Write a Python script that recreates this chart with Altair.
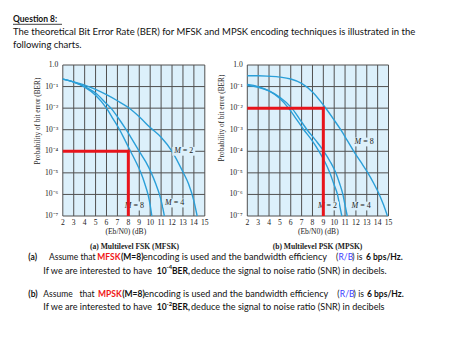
import altair as alt
import pandas as pd

# ---------------- values ----------------
eb_ticks = list(range(2, 16))
ber_ticks = [1, 1e-1, 1e-2, 1e-3, 1e-4, 1e-5, 1e-6, 1e-7]
ber_tick_labels = ["1.0", "10⁻¹", "10⁻²", "10⁻³", "10⁻⁴", "10⁻⁵", "10⁻⁶", "10⁻⁷"]

# (a) Multilevel FSK
mfsk_m2_eb = [2, 3, 4, 5, 6, 7, 8, 9, 10, 11, 12, 13, 13.5, 14, 14.3]
mfsk_m2_ber = [0.22, 0.165, 0.117, 0.074, 0.042, 0.022, 0.0107, 0.004, 1.26e-3, 4.5e-4, 1e-4, 1.1e-5, 3.2e-6, 5e-7, 1e-7]
mfsk_m4_eb = [2, 3, 4, 5, 6, 6.4, 7, 7.8, 8.4, 9, 9.6, 10.1, 10.5, 10.85, 11.1, 11.3]
mfsk_m4_ber = [0.22, 0.16, 0.1, 0.05, 0.016, 0.01, 0.004, 1e-3, 3.2e-4, 1e-4, 3.2e-5, 1e-5, 3.2e-6, 1e-6, 3.2e-7, 1e-7]
mfsk_m8_eb = [2, 3, 4, 5, 6, 6.6, 7.2, 7.7, 8.2, 8.7, 9.15, 9.5, 9.8, 10.0, 10.15]
mfsk_m8_ber = [0.22, 0.16, 0.095, 0.04, 0.01, 3.2e-3, 1e-3, 3.2e-4, 1e-4, 3.2e-5, 1e-5, 3.2e-6, 1e-6, 3.2e-7, 1e-7]

# (b) Multilevel PSK
mpsk_m2_eb = [2, 3, 4, 5, 5.8, 6.5, 7.2, 7.95, 8.6, 9.15, 9.6, 9.95, 10.3, 10.5, 10.7]
mpsk_m2_ber = [0.126, 0.1, 0.063, 0.028, 0.01, 3.2e-3, 1e-3, 3.2e-4, 1e-4, 3.2e-5, 1e-5, 3.2e-6, 1e-6, 3.2e-7, 1e-7]
mpsk_m4_eb = [2, 3, 4, 5, 6.1, 6.8, 7.5, 8.3, 9.05, 9.65, 10.15, 10.5, 10.8, 11.0, 11.2]
mpsk_m4_ber = [0.112, 0.093, 0.063, 0.032, 0.01, 3.2e-3, 1e-3, 3.2e-4, 1e-4, 3.2e-5, 1e-5, 3.2e-6, 1e-6, 3.2e-7, 1e-7]
mpsk_m8_eb = [2, 3, 4, 5, 6, 7, 8, 9, 10, 10.6, 11.2, 11.8, 12.45, 13.1, 13.65, 14.15, 14.55, 14.9]
mpsk_m8_ber = [0.316, 0.316, 0.3, 0.275, 0.224, 0.141, 0.056, 0.014, 2.8e-3, 1e-3, 3.2e-4, 1e-4, 3.2e-5, 1e-5, 3.2e-6, 1e-6, 3.2e-7, 1e-7]

# red read-off lines
mfsk_target_eb = [2, 8, 8]
mfsk_target_ber = [1e-4, 1e-4, 1e-7]
mpsk_target_eb = [2, 9, 9]
mpsk_target_ber = [1e-2, 1e-2, 1e-7]

# curve labels (placed in data coordinates)
mfsk_label_m = ["2", "4", "8"]
mfsk_label_eb = [13.08, 12.25, 8.56]
mfsk_label_ber = [1e-4, 4e-7, 2.9e-7]
mpsk_label_m = ["8", "2", "4"]
mpsk_label_eb = [12.76, 9.39, 12.48]
mpsk_label_ber = [2.7e-4, 2.9e-7, 2.9e-7]

x_title = "(Eb/N0) (dB)"
y_title = "Probability of bit error (BER)"
captions = ["(a) Multilevel FSK (MFSK)", "(b) Multilevel PSK (MPSK)"]

# question text, split in runs of one style each
question_title = "Question 8:"
intro_lines = ["The theoretical Bit Error Rate (BER) for MFSK and MPSK encoding techniques is illustrated in the",
               "following charts."]
part_a1 = [("(a)", "b"), ("Assume that", "n"), ("MFSK", "r"), ("(M=8)", "b"),
           ("encoding is used and the bandwidth efficiency", "w"), ("(", "n"), ("R/B", "u"), (")", "n"),
           ("is", "n"), ("6 bps/Hz.", "b")]
part_a2 = [("If we are interested to have", "w"), ("10", "b"), ("-4", "s"), ("BER,", "b"),
           ("deduce the signal to noise ratio (SNR) in decibels.", "w")]
part_b1 = [("(b)", "b"), ("Assume", "n"), ("that", "n"), ("MPSK", "r"), ("(M=8)", "b"),
           ("encoding is used and the bandwidth efficiency", "w"), ("(", "n"), ("R/B", "u"), (")", "n"),
           ("is", "n"), ("6 bps/Hz.", "b")]
part_b2 = [("If we are interested to have", "w"), ("10", "b"), ("-2", "s"), ("BER,", "b"),
           ("deduce the signal to noise ratio (SNR) in decibels", "w")]

# ---------------- layout ----------------
FRAME_X0, FRAME_Y0 = 62.8, 65.0          # page position of the plotting frame
FRAME_W, FRAME_H = 325.7, 151.0
PAGE_W, PAGE_H = 458, 344
MARGIN = 8
PAD = {"left": FRAME_X0 - MARGIN, "top": FRAME_Y0 - MARGIN,
       "right": PAGE_W - (FRAME_X0 - MARGIN) - FRAME_W,
       "bottom": PAGE_H - (FRAME_Y0 - MARGIN) - FRAME_H}
LEFT_X = [0, 142]
RIGHT_X = [184.5, 325.7]
PANEL_Y = [FRAME_H, 0]

CURVE = "#2b9fd8"
BG = "#dcf0fb"
GRID = "#505050"
RED = "#e8141b"
INK = "#222"
SERIF = "Liberation Serif"
SANS = "Lato"

# page positions of the text runs
line_x = {
    "a1": [28.3, 49, 97.3, 121, 143, 336, 338.5, 352.3, 356.7, 366],
    "a2": [43.3, 156.7, 166.6, 172, 191],
    "b1": [28.3, 43.3, 79.5, 98, 122.2, 144.3, 337.3, 339.8, 353.6, 358.3, 367],
    "b2": [43.3, 156.7, 166.6, 172, 191],
}
line_y = {"a1": 257.3, "a2": 270.7, "b1": 294.3, "b2": 307.3}


def curve_frame(pairs):
    rows = []
    for m, ebs, bers in pairs:
        for i, (e, b) in enumerate(zip(ebs, bers)):
            rows.append({"M": "M" + m, "eb": e, "ber": b, "i": i})
    return pd.DataFrame(rows)


def panel(curve_df, tgt_eb, tgt_ber, lab_m, lab_eb, lab_ber, x_range):
    xs = alt.Scale(domain=[eb_ticks[0], eb_ticks[-1]], range=x_range, nice=False, zero=False)
    ys = alt.Scale(type="log", domain=[ber_ticks[-1], ber_ticks[0]], range=PANEL_Y, nice=False)

    def X(f):
        return alt.X(f, scale=xs, axis=None)

    def Y(f):
        return alt.Y(f, scale=ys, axis=None)

    bg = alt.Chart(pd.DataFrame({"x0": [eb_ticks[0]], "x1": [eb_ticks[-1]],
                                 "y0": [ber_ticks[-1]], "y1": [ber_ticks[0]]})).mark_rect(color=BG).encode(
        x=X("x0:Q"), x2="x1:Q", y=Y("y0:Q"), y2="y1:Q")
    vgrid = alt.Chart(pd.DataFrame({"x": eb_ticks, "lo": ber_ticks[-1], "hi": ber_ticks[0]})).mark_rule(
        color=GRID, strokeWidth=1).encode(x=X("x:Q"), y=Y("lo:Q"), y2="hi:Q")
    hgrid = alt.Chart(pd.DataFrame({"y": ber_ticks, "lo": eb_ticks[0], "hi": eb_ticks[-1]})).mark_rule(
        color=GRID, strokeWidth=1).encode(y=Y("y:Q"), x=X("lo:Q"), x2="hi:Q")
    # tick labels through the panel scales
    xlab = alt.Chart(pd.DataFrame({"x": eb_ticks, "lo": ber_ticks[-1], "lab": [str(v) for v in eb_ticks]})
                     ).mark_text(font=SERIF, fontSize=7.6, color=INK, align="center", baseline="middle",
                                 dy=6.6).encode(x=X("x:Q"), y=Y("lo:Q"), text="lab:N")
    ylab = alt.Chart(pd.DataFrame({"y": ber_ticks, "lo": eb_ticks[0], "lab": ber_tick_labels})
                     ).mark_text(font=SERIF, fontSize=7.6, color=INK, align="right", baseline="middle",
                                 dx=-4.6).encode(x=X("lo:Q"), y=Y("y:Q"), text="lab:N")
    curves = alt.Chart(curve_df).mark_line(strokeWidth=1.4, interpolate="monotone").encode(
        x=X("eb:Q"), y=Y("ber:Q"),
        color=alt.Color("M:N", scale=alt.Scale(range=[CURVE]), legend=None), order="i:Q")
    target = alt.Chart(pd.DataFrame({"eb": tgt_eb, "ber": tgt_ber, "i": list(range(len(tgt_eb)))})).mark_line(
        color=RED, strokeWidth=3, strokeJoin="miter", strokeCap="butt").encode(
        x=X("eb:Q"), y=Y("ber:Q"), order="i:Q")
    lab_df = pd.DataFrame({"val": ["= " + m for m in lab_m], "eb": lab_eb, "ber": lab_ber})
    lab_bg = alt.Chart(lab_df).transform_calculate(
        a="datum.eb - 1.05", b="datum.eb + 1.05", c="datum.ber / 1.6", d="datum.ber * 1.6").mark_rect(
        color=BG).encode(x=X("a:Q"), x2="b:Q", y=Y("c:Q"), y2="d:Q")
    lab_m_txt = alt.Chart(lab_df).mark_text(text="M", font=SERIF, fontStyle="italic", fontSize=8,
                                            align="right", dx=-3, baseline="middle", color=INK).encode(
        x=X("eb:Q"), y=Y("ber:Q"))
    lab_v_txt = alt.Chart(lab_df).mark_text(font=SERIF, fontSize=8, align="left", dx=-1,
                                            baseline="middle", color=INK).encode(
        x=X("eb:Q"), y=Y("ber:Q"), text="val:N")
    return alt.layer(bg, vgrid, hgrid, xlab, ylab, curves, lab_bg, lab_m_txt, lab_v_txt, target
                     ).resolve_scale(color="independent")


left = panel(curve_frame([("2", mfsk_m2_eb, mfsk_m2_ber), ("4", mfsk_m4_eb, mfsk_m4_ber),
                          ("8", mfsk_m8_eb, mfsk_m8_ber)]),
             mfsk_target_eb, mfsk_target_ber, mfsk_label_m, mfsk_label_eb, mfsk_label_ber, LEFT_X)
right = panel(curve_frame([("2", mpsk_m2_eb, mpsk_m2_ber), ("4", mpsk_m4_eb, mpsk_m4_ber),
                           ("8", mpsk_m8_eb, mpsk_m8_ber)]),
              mpsk_target_eb, mpsk_target_ber, mpsk_label_m, mpsk_label_eb, mpsk_label_ber, RIGHT_X)


def framed(df):
    df = df.copy()
    df["fx"] = df["px"] - FRAME_X0
    df["fy"] = df["py"] - FRAME_Y0
    return df


# axis titles and captions (page positions)
xt_df = framed(pd.DataFrame({"t": [x_title, x_title], "px": [125.8, 318.3], "py": [231.7, 231.7]}))
yt_df = framed(pd.DataFrame({"t": [y_title, y_title], "px": [37.5, 222.0], "py": [121.0, 118.0]}))
cap_df = framed(pd.DataFrame({"t": captions, "px": [134.5, 317.5], "py": [247.3, 246.6]}))

xt = alt.Chart(xt_df).mark_text(font=SERIF, fontSize=7.6, color=INK, align="center", baseline="middle").encode(
    x=alt.X("fx:Q", scale=None, axis=None), y=alt.Y("fy:Q", scale=None, axis=None), text="t:N")
yt = alt.Chart(yt_df).mark_text(font=SERIF, fontSize=7.3, color=INK, align="center", baseline="middle",
                                angle=270).encode(
    x=alt.X("fx:Q", scale=None, axis=None), y=alt.Y("fy:Q", scale=None, axis=None), text="t:N")
cap = alt.Chart(cap_df).mark_text(font=SERIF, fontWeight="bold", fontSize=7.6, align="center",
                                  baseline="middle", color=INK).encode(
    x=alt.X("fx:Q", scale=None, axis=None), y=alt.Y("fy:Q", scale=None, axis=None), text="t:N")

# question text
rows = [{"t": question_title, "px": 13, "py": 19, "s": "b"},
        {"t": intro_lines[0], "px": 13, "py": 32.3, "s": "i"},
        {"t": intro_lines[1], "px": 13, "py": 44.5, "s": "i"}]
for key, runs in (("a1", part_a1), ("a2", part_a2), ("b1", part_b1), ("b2", part_b2)):
    for (t, s), px in zip(runs, line_x[key]):
        py = line_y[key] - (3.8 if s == "s" else 0)
        rows.append({"t": t, "px": px, "py": py, "s": s})
text_df = framed(pd.DataFrame(rows))

styles = {
    "i": dict(color="#111", fontWeight="normal", fontSize=9.5),
    "w": dict(color="#111", fontWeight="normal", fontSize=9.1),
    "n": dict(color="#111", fontWeight="normal", fontSize=8.5),
    "b": dict(color="#111", fontWeight="bold", fontSize=8.5),
    "r": dict(color="#f01818", fontWeight="bold", fontSize=8.5),
    "u": dict(color="#3a3aff", fontWeight="normal", fontSize=8.5),
    "s": dict(color="#111", fontWeight="bold", fontSize=5.8),
}
text_layers = []
for s, st in styles.items():
    text_layers.append(
        alt.Chart(text_df).transform_filter(alt.datum.s == s).mark_text(
            font=SANS, align="left", baseline="middle", **st).encode(
            x=alt.X("fx:Q", scale=None, axis=None), y=alt.Y("fy:Q", scale=None, axis=None), text="t:N"))

underline = alt.Chart(pd.DataFrame({"a": [0]})).mark_rule(color="#111", strokeWidth=0.8).encode(
    x=alt.value(13 - FRAME_X0), x2=alt.value(62 - FRAME_X0), y=alt.value(24.3 - FRAME_Y0))

chart = alt.layer(left, right, xt, yt, cap, underline, *text_layers).resolve_scale(
    x="independent", y="independent").properties(
    width=FRAME_W, height=FRAME_H, autosize=alt.AutoSizeParams(type="none"), padding=PAD,
    background="white"
).configure_view(stroke=None)

chart.save("out.html", embed_options={"renderer": "svg", "actions": False})
